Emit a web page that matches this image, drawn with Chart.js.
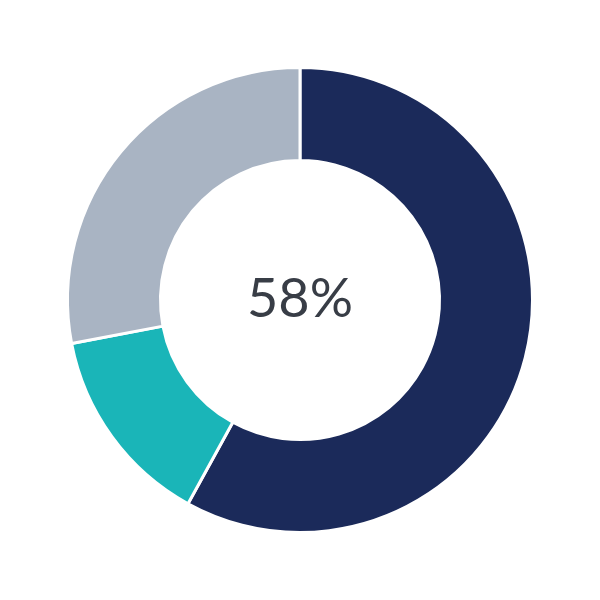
<!DOCTYPE html>
<html>
<head>
<meta charset="utf-8">
<script src="https://cdn.jsdelivr.net/npm/chart.js@4"></script>
<style>
html,body{margin:0;padding:0;background:#fff;}
#wrap{width:600px;height:600px;}
</style>
</head>
<body>
<div id="wrap"><canvas id="c" width="600" height="600"></canvas></div>
<script>
const labels = ["Segment A", "Segment B", "Segment C"];
const values = [58, 14, 28];
const colors = ["#1b2a5a", "#1ab5b8", "#a9b4c3"];
const centerLabel = "58%";

const centerText = {
  id: "centerText",
  afterDraw(chart) {
    const {ctx} = chart;
    const meta = chart.getDatasetMeta(0).data[0];
    ctx.save();
    ctx.font = "54px Lato";
    ctx.fillStyle = "#383d46";
    ctx.textAlign = "center";
    ctx.textBaseline = "middle";
    ctx.fillText(centerLabel, meta.x, meta.y);
    ctx.restore();
  }
};

new Chart(document.getElementById("c"), {
  type: "doughnut",
  data: {
    labels: labels,
    datasets: [{
      data: values,
      backgroundColor: colors,
      borderColor: "#ffffff",
      borderWidth: 3
    }]
  },
  options: {
    responsive: false,
    animation: false,
    cutout: "60%",
    layout: { padding: 66 },
    plugins: {
      legend: { display: false },
      tooltip: { enabled: false }
    }
  },
  plugins: [centerText]
});
</script>
</body>
</html>
